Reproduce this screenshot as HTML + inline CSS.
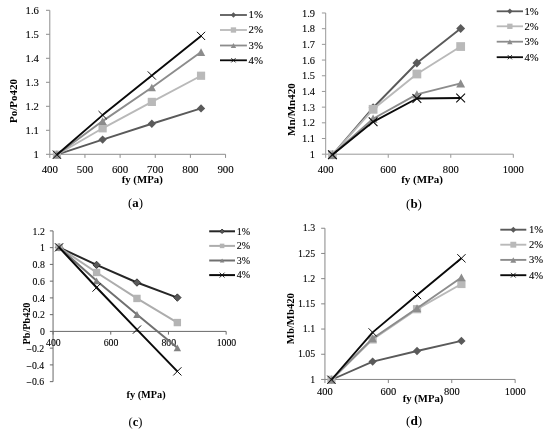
<!DOCTYPE html>
<html><head><meta charset="utf-8"><title>Figure</title>
<style>
html,body{margin:0;padding:0;background:#fff;}
body{width:550px;height:432px;overflow:hidden;}
svg{display:block;font-family:"Liberation Serif",serif;fill:#000;}
.b{font-weight:bold;}
</style></head><body>
<svg width="550" height="432" viewBox="0 0 550 432">
<rect width="550" height="432" fill="#fff"/>

<g stroke="#8e8e8e" stroke-width="1" fill="none">
<path d="M49.8 10.3V154.3"/>
<path d="M49.8 154.3H225.55"/>
<path d="M46 154.3H49.8M46 130.3H49.8M46 106.3H49.8M46 82.3H49.8M46 58.3H49.8M46 34.3H49.8M46 10.3H49.8M49.8 154.3v3.6M84.95 154.3v3.6M120.1 154.3v3.6M155.25 154.3v3.6M190.4 154.3v3.6M225.55 154.3v3.6"/>
</g>
<g font-size="10.7" fill="#000" stroke="#000" stroke-width="0.1">
<g text-anchor="end">
<text x="38.9" y="157.6">1</text>
<text x="38.9" y="133.6">1.1</text>
<text x="38.9" y="109.6">1.2</text>
<text x="38.9" y="85.6">1.3</text>
<text x="38.9" y="61.6">1.4</text>
<text x="38.9" y="37.6">1.5</text>
<text x="38.9" y="13.6">1.6</text>
</g><g text-anchor="middle" font-size="10.9">
<text x="49.8" y="173.2">400</text>
<text x="84.95" y="173.2">500</text>
<text x="120.1" y="173.2">600</text>
<text x="155.25" y="173.2">700</text>
<text x="190.4" y="173.2">800</text>
<text x="225.55" y="173.2">900</text>
</g></g>
<polyline points="56.93,154.7 102.62,139.58 151.83,123.74 201.04,108.38" fill="none" stroke="#5a5a5a" stroke-width="1.9" stroke-linejoin="round"/>
<path d="M56.93 150.55L61.08 154.7L56.93 158.85L52.78 154.7Z" fill="#5a5a5a"/>
<path d="M102.62 135.43L106.77 139.58L102.62 143.73L98.47 139.58Z" fill="#5a5a5a"/>
<path d="M151.83 119.59L155.98 123.74L151.83 127.89L147.68 123.74Z" fill="#5a5a5a"/>
<path d="M201.04 104.23L205.19 108.38L201.04 112.53L196.89 108.38Z" fill="#5a5a5a"/>
<polyline points="56.93,154.7 102.62,128.3 151.83,101.9 201.04,75.74" fill="none" stroke="#b9b9b9" stroke-width="1.9" stroke-linejoin="round"/>
<rect x="52.83" y="150.6" width="8.2" height="8.2" fill="#b9b9b9"/>
<rect x="98.52" y="124.2" width="8.2" height="8.2" fill="#b9b9b9"/>
<rect x="147.73" y="97.8" width="8.2" height="8.2" fill="#b9b9b9"/>
<rect x="196.94" y="71.64" width="8.2" height="8.2" fill="#b9b9b9"/>
<polyline points="56.93,154.7 102.62,121.1 151.83,87.5 201.04,52.1" fill="none" stroke="#8c8c8c" stroke-width="1.9" stroke-linejoin="round"/>
<path d="M56.93 150.85L61.08 158.55L52.78 158.55Z" fill="#8c8c8c"/>
<path d="M102.62 117.25L106.77 124.95L98.47 124.95Z" fill="#8c8c8c"/>
<path d="M151.83 83.65L155.98 91.35L147.68 91.35Z" fill="#8c8c8c"/>
<path d="M201.04 48.25L205.19 55.95L196.89 55.95Z" fill="#8c8c8c"/>
<polyline points="56.93,154.7 102.62,115.1 151.83,75.5 201.04,35.9" fill="none" stroke="#0a0a0a" stroke-width="1.9" stroke-linejoin="round"/>
<path d="M52.83 150.6L61.03 158.8M61.03 150.6L52.83 158.8" stroke="#0a0a0a" stroke-width="1" fill="none"/>
<path d="M98.52 111L106.72 119.2M106.72 111L98.52 119.2" stroke="#0a0a0a" stroke-width="1" fill="none"/>
<path d="M147.73 71.4L155.93 79.6M155.93 71.4L147.73 79.6" stroke="#0a0a0a" stroke-width="1" fill="none"/>
<path d="M196.94 31.8L205.14 40M205.14 31.8L196.94 40" stroke="#0a0a0a" stroke-width="1" fill="none"/>
<path d="M220 15H246.9" stroke="#5a5a5a" stroke-width="1.8"/>
<path d="M233.45 12.3L236.15 15L233.45 17.7L230.75 15Z" fill="#5a5a5a"/>
<text x="248.5" y="18.3" font-size="10.8" fill="#000" stroke="#000" stroke-width="0.1">1%</text>
<path d="M220 30H246.9" stroke="#b9b9b9" stroke-width="1.8"/>
<rect x="230.78" y="27.34" width="5.33" height="5.33" fill="#b9b9b9"/>
<text x="248.5" y="33.3" font-size="10.8" fill="#000" stroke="#000" stroke-width="0.1">2%</text>
<path d="M220 45.5H246.9" stroke="#8c8c8c" stroke-width="1.8"/>
<path d="M233.45 43L236.15 48L230.75 48Z" fill="#8c8c8c"/>
<text x="248.5" y="48.8" font-size="10.8" fill="#000" stroke="#000" stroke-width="0.1">3%</text>
<path d="M220 60.3H246.9" stroke="#0a0a0a" stroke-width="1.8"/>
<path d="M231.32 58.17L235.58 62.43M235.58 58.17L231.32 62.43" stroke="#0a0a0a" stroke-width="0.85" fill="none"/>
<text x="248.5" y="63.6" font-size="10.8" fill="#000" stroke="#000" stroke-width="0.1">4%</text>
<text class="b" font-size="11.0" text-anchor="middle" transform="translate(16.5 101) rotate(-90)">Po/Po420</text>
<text class="b" font-size="10.8" text-anchor="middle" x="142.2" y="183">fy (MPa)</text>
<text font-size="12.8" text-anchor="middle" x="135.5" y="207">(<tspan class="b">a</tspan>)</text>
<g stroke="#989898" stroke-width="1" fill="none">
<path d="M325.7 12.99V154.2"/>
<path d="M325.7 154.2H513.32"/>
<path d="M321.9 154.2H325.7M321.9 138.51H325.7M321.9 122.82H325.7M321.9 107.13H325.7M321.9 91.44H325.7M321.9 75.75H325.7M321.9 60.06H325.7M321.9 44.37H325.7M321.9 28.68H325.7M321.9 12.99H325.7M325.7 154.2v3.6M388.24 154.2v3.6M450.78 154.2v3.6M513.32 154.2v3.6"/>
</g>
<g font-size="10.4" fill="#000" stroke="#000" stroke-width="0.1">
<g text-anchor="end">
<text x="315" y="157.8">1</text>
<text x="315" y="142.11">1.1</text>
<text x="315" y="126.42">1.2</text>
<text x="315" y="110.73">1.3</text>
<text x="315" y="95.04">1.4</text>
<text x="315" y="79.35">1.5</text>
<text x="315" y="63.66">1.6</text>
<text x="315" y="47.97">1.7</text>
<text x="315" y="32.28">1.8</text>
<text x="315" y="16.59">1.9</text>
</g><g text-anchor="middle" font-size="10.6">
<text x="325.7" y="172.6">400</text>
<text x="388.24" y="172.6">600</text>
<text x="450.78" y="172.6">800</text>
<text x="513.32" y="172.6">1000</text>
</g></g>
<polyline points="332.45,154.8 373.1,107.73 416.88,63.01 460.66,28.5" fill="none" stroke="#5a5a5a" stroke-width="1.9" stroke-linejoin="round"/>
<path d="M332.45 150.36L336.89 154.8L332.45 159.24L328.01 154.8Z" fill="#5a5a5a"/>
<path d="M373.1 103.29L377.55 107.73L373.1 112.17L368.66 107.73Z" fill="#5a5a5a"/>
<path d="M416.88 58.57L421.32 63.01L416.88 67.45L412.44 63.01Z" fill="#5a5a5a"/>
<path d="M460.66 24.05L465.1 28.5L460.66 32.94L456.22 28.5Z" fill="#5a5a5a"/>
<polyline points="332.45,154.8 373.1,109.3 416.88,74 460.66,46.54" fill="none" stroke="#b9b9b9" stroke-width="1.9" stroke-linejoin="round"/>
<rect x="328.07" y="150.41" width="8.77" height="8.77" fill="#b9b9b9"/>
<rect x="368.72" y="104.91" width="8.77" height="8.77" fill="#b9b9b9"/>
<rect x="412.5" y="69.61" width="8.77" height="8.77" fill="#b9b9b9"/>
<rect x="456.27" y="42.15" width="8.77" height="8.77" fill="#b9b9b9"/>
<polyline points="332.45,154.8 373.1,118.71 416.88,94.39 460.66,83.41" fill="none" stroke="#8c8c8c" stroke-width="1.9" stroke-linejoin="round"/>
<path d="M332.45 150.68L336.89 158.92L328.01 158.92Z" fill="#8c8c8c"/>
<path d="M373.1 114.59L377.55 122.83L368.66 122.83Z" fill="#8c8c8c"/>
<path d="M416.88 90.27L421.32 98.51L412.44 98.51Z" fill="#8c8c8c"/>
<path d="M460.66 79.29L465.1 87.53L456.22 87.53Z" fill="#8c8c8c"/>
<polyline points="332.45,154.8 373.1,121.85 416.88,98.47 460.66,98" fill="none" stroke="#0a0a0a" stroke-width="1.9" stroke-linejoin="round"/>
<path d="M328.07 150.41L336.84 159.19M336.84 150.41L328.07 159.19" stroke="#0a0a0a" stroke-width="1.07" fill="none"/>
<path d="M368.72 117.46L377.49 126.24M377.49 117.46L368.72 126.24" stroke="#0a0a0a" stroke-width="1.07" fill="none"/>
<path d="M412.5 94.09L421.27 102.86M421.27 94.09L412.5 102.86" stroke="#0a0a0a" stroke-width="1.07" fill="none"/>
<path d="M456.27 93.62L465.05 102.39M465.05 93.62L456.27 102.39" stroke="#0a0a0a" stroke-width="1.07" fill="none"/>
<path d="M496.7 11.3H523" stroke="#5a5a5a" stroke-width="1.8"/>
<path d="M509.85 8.6L512.55 11.3L509.85 14L507.15 11.3Z" fill="#5a5a5a"/>
<text x="524.5" y="14.6" font-size="10.6" fill="#000" stroke="#000" stroke-width="0.1">1%</text>
<path d="M496.7 26.3H523" stroke="#b9b9b9" stroke-width="1.8"/>
<rect x="507.19" y="23.64" width="5.33" height="5.33" fill="#b9b9b9"/>
<text x="524.5" y="29.6" font-size="10.6" fill="#000" stroke="#000" stroke-width="0.1">2%</text>
<path d="M496.7 41.7H523" stroke="#8c8c8c" stroke-width="1.8"/>
<path d="M509.85 39.2L512.55 44.2L507.15 44.2Z" fill="#8c8c8c"/>
<text x="524.5" y="45" font-size="10.6" fill="#000" stroke="#000" stroke-width="0.1">3%</text>
<path d="M496.7 57.2H523" stroke="#0a0a0a" stroke-width="1.8"/>
<path d="M507.72 55.07L511.98 59.33M511.98 55.07L507.72 59.33" stroke="#0a0a0a" stroke-width="0.85" fill="none"/>
<text x="524.5" y="60.5" font-size="10.6" fill="#000" stroke="#000" stroke-width="0.1">4%</text>
<text class="b" font-size="11.0" text-anchor="middle" transform="translate(294.9 109.6) rotate(-90)">Mn/Mn420</text>
<text class="b" font-size="11" text-anchor="middle" x="422.1" y="183">fy (MPa)</text>
<text font-size="13" text-anchor="middle" x="414" y="207.6">(<tspan class="b">b</tspan>)</text>
<g stroke="#686868" stroke-width="1" fill="none">
<path d="M53.05 230.9V381.65"/>
<path d="M53.05 331.4H226.15"/>
<path d="M49.85 381.65H53.05M49.85 364.9H53.05M49.85 348.15H53.05M49.85 331.4H53.05M49.85 314.65H53.05M49.85 297.9H53.05M49.85 281.15H53.05M49.85 264.4H53.05M49.85 247.65H53.05M49.85 230.9H53.05M53.05 331.4v3.2M110.75 331.4v3.2M168.45 331.4v3.2M226.15 331.4v3.2"/>
</g>
<g font-size="9.8" fill="#000" stroke="#000" stroke-width="0.1">
<g text-anchor="end">
<text x="44.8" y="385.45"><tspan class="b" dy="0.9" dx="-0.6">−</tspan><tspan dy="-0.9">0.6</tspan></text>
<text x="44.8" y="368.7"><tspan class="b" dy="0.9" dx="-0.6">−</tspan><tspan dy="-0.9">0.4</tspan></text>
<text x="44.8" y="351.95"><tspan class="b" dy="0.9" dx="-0.6">−</tspan><tspan dy="-0.9">0.2</tspan></text>
<text x="44.8" y="335.2">0</text>
<text x="44.8" y="318.45">0.2</text>
<text x="44.8" y="301.7">0.4</text>
<text x="44.8" y="284.95">0.6</text>
<text x="44.8" y="268.2">0.8</text>
<text x="44.8" y="251.45">1</text>
<text x="44.8" y="234.7">1.2</text>
</g><g text-anchor="middle" font-size="9.8">
<text x="53.35" y="346.3">400</text>
<text x="111.05" y="346.3">600</text>
<text x="168.75" y="346.3">800</text>
<text x="226.45" y="346.3">1000</text>
</g></g>
<polyline points="59.07,247.35 96.57,264.94 136.96,282.52 177.35,297.6" fill="none" stroke="#262626" stroke-width="2" stroke-linejoin="round"/>
<path d="M59.07 243.61L62.8 247.35L59.07 251.08L55.33 247.35Z" fill="#595959" stroke="#262626" stroke-width="0.8"/>
<path d="M96.57 261.2L100.31 264.94L96.57 268.67L92.84 264.94Z" fill="#595959" stroke="#262626" stroke-width="0.8"/>
<path d="M136.96 278.79L140.7 282.52L136.96 286.26L133.23 282.52Z" fill="#595959" stroke="#262626" stroke-width="0.8"/>
<path d="M177.35 293.86L181.09 297.6L177.35 301.33L173.62 297.6Z" fill="#595959" stroke="#262626" stroke-width="0.8"/>
<polyline points="59.07,247.35 96.57,272.47 136.96,298.44 177.35,322.56" fill="none" stroke="#adadad" stroke-width="2" stroke-linejoin="round"/>
<rect x="55.38" y="243.66" width="7.38" height="7.38" fill="#b4b4b4"/>
<rect x="92.88" y="268.78" width="7.38" height="7.38" fill="#b4b4b4"/>
<rect x="133.27" y="294.75" width="7.38" height="7.38" fill="#b4b4b4"/>
<rect x="173.66" y="318.87" width="7.38" height="7.38" fill="#b4b4b4"/>
<polyline points="59.07,247.35 96.57,280.85 136.96,314.52 177.35,347.85" fill="none" stroke="#707070" stroke-width="2" stroke-linejoin="round"/>
<path d="M59.07 243.88L62.8 250.81L55.33 250.81Z" fill="#828282"/>
<path d="M96.57 277.38L100.31 284.31L92.84 284.31Z" fill="#828282"/>
<path d="M136.96 311.05L140.7 317.98L133.23 317.98Z" fill="#828282"/>
<path d="M177.35 344.38L181.09 351.31L173.62 351.31Z" fill="#828282"/>
<polyline points="59.07,247.35 96.57,287.55 136.96,329.59 177.35,371.38" fill="none" stroke="#0a0a0a" stroke-width="2" stroke-linejoin="round"/>
<path d="M54.97 243.25L63.17 251.45M63.17 243.25L54.97 251.45" stroke="#0a0a0a" stroke-width="1" fill="none"/>
<path d="M92.47 283.45L100.67 291.65M100.67 283.45L92.47 291.65" stroke="#0a0a0a" stroke-width="1" fill="none"/>
<path d="M132.86 325.49L141.06 333.69M141.06 325.49L132.86 333.69" stroke="#0a0a0a" stroke-width="1" fill="none"/>
<path d="M173.25 367.28L181.45 375.48M181.45 367.28L173.25 375.48" stroke="#0a0a0a" stroke-width="1" fill="none"/>
<path d="M209.2 231.3H235" stroke="#262626" stroke-width="2"/>
<path d="M222.1 229.02L224.38 231.3L222.1 233.58L219.82 231.3Z" fill="#595959" stroke="#262626" stroke-width="0.8"/>
<text x="236.8" y="234.6" font-size="10" fill="#000" stroke="#000" stroke-width="0.1">1%</text>
<path d="M209.2 245.9H235" stroke="#adadad" stroke-width="2"/>
<rect x="219.84" y="243.65" width="4.51" height="4.51" fill="#b4b4b4"/>
<text x="236.8" y="249.2" font-size="10" fill="#000" stroke="#000" stroke-width="0.1">2%</text>
<path d="M209.2 260.5H235" stroke="#707070" stroke-width="2"/>
<path d="M222.1 258.38L224.38 262.62L219.82 262.62Z" fill="#828282"/>
<text x="236.8" y="263.8" font-size="10" fill="#000" stroke="#000" stroke-width="0.1">3%</text>
<path d="M209.2 275.1H235" stroke="#0a0a0a" stroke-width="2"/>
<path d="M219.64 272.64L224.56 277.56M224.56 272.64L219.64 277.56" stroke="#0a0a0a" stroke-width="0.85" fill="none"/>
<text x="236.8" y="278.4" font-size="10" fill="#000" stroke="#000" stroke-width="0.1">4%</text>
<text class="b" font-size="10.2" text-anchor="middle" transform="translate(30.1 323.5) rotate(-90)">Pb/Pb420</text>
<text class="b" font-size="10.3" text-anchor="middle" x="146.1" y="397.7">fy (MPa)</text>
<text font-size="12.5" text-anchor="middle" x="135.5" y="425.6">(<tspan class="b">c</tspan>)</text>
<g stroke="#868686" stroke-width="1" fill="none">
<path d="M324.95 228.25V379.45"/>
<path d="M324.95 379.45H515.15"/>
<path d="M321.15 379.45H324.95M321.15 354.25H324.95M321.15 329.05H324.95M321.15 303.85H324.95M321.15 278.65H324.95M321.15 253.45H324.95M321.15 228.25H324.95M324.95 379.45v3.6M388.35 379.45v3.6M451.75 379.45v3.6M515.15 379.45v3.6"/>
</g>
<g font-size="9.9" fill="#000" stroke="#000" stroke-width="0.1">
<g text-anchor="end">
<text x="315.2" y="382.65">1</text>
<text x="315.2" y="357.45">1.05</text>
<text x="315.2" y="332.25">1.1</text>
<text x="315.2" y="307.05">1.15</text>
<text x="315.2" y="281.85">1.2</text>
<text x="315.2" y="256.65">1.25</text>
<text x="315.2" y="231.45">1.3</text>
</g><g text-anchor="middle" font-size="10.5">
<text x="324.95" y="394.8">400</text>
<text x="388.35" y="394.8">600</text>
<text x="451.75" y="394.8">800</text>
<text x="515.15" y="394.8">1000</text>
</g></g>
<polyline points="331.44,379.75 372.65,361.61 417.03,351.02 461.41,340.94" fill="none" stroke="#5a5a5a" stroke-width="1.9" stroke-linejoin="round"/>
<path d="M331.44 375.6L335.59 379.75L331.44 383.9L327.29 379.75Z" fill="#5a5a5a"/>
<path d="M372.65 357.46L376.8 361.61L372.65 365.76L368.5 361.61Z" fill="#5a5a5a"/>
<path d="M417.03 346.87L421.18 351.02L417.03 355.17L412.88 351.02Z" fill="#5a5a5a"/>
<path d="M461.41 336.79L465.56 340.94L461.41 345.09L457.26 340.94Z" fill="#5a5a5a"/>
<polyline points="331.44,379.75 372.65,339.43 417.03,309.19 461.41,283.99" fill="none" stroke="#b9b9b9" stroke-width="1.9" stroke-linejoin="round"/>
<rect x="327.34" y="375.65" width="8.2" height="8.2" fill="#b9b9b9"/>
<rect x="368.55" y="335.33" width="8.2" height="8.2" fill="#b9b9b9"/>
<rect x="412.93" y="305.09" width="8.2" height="8.2" fill="#b9b9b9"/>
<rect x="457.31" y="279.89" width="8.2" height="8.2" fill="#b9b9b9"/>
<polyline points="331.44,379.75 372.65,338.42 417.03,308.18 461.41,277.44" fill="none" stroke="#8c8c8c" stroke-width="1.9" stroke-linejoin="round"/>
<path d="M331.44 375.9L335.59 383.6L327.29 383.6Z" fill="#8c8c8c"/>
<path d="M372.65 334.57L376.8 342.27L368.5 342.27Z" fill="#8c8c8c"/>
<path d="M417.03 304.33L421.18 312.03L412.88 312.03Z" fill="#8c8c8c"/>
<path d="M461.41 273.59L465.56 281.29L457.26 281.29Z" fill="#8c8c8c"/>
<polyline points="331.44,379.75 372.65,332.37 417.03,295.08 461.41,258.29" fill="none" stroke="#0a0a0a" stroke-width="1.9" stroke-linejoin="round"/>
<path d="M327.34 375.65L335.54 383.85M335.54 375.65L327.34 383.85" stroke="#0a0a0a" stroke-width="1" fill="none"/>
<path d="M368.55 328.27L376.75 336.47M376.75 328.27L368.55 336.47" stroke="#0a0a0a" stroke-width="1" fill="none"/>
<path d="M412.93 290.98L421.13 299.18M421.13 290.98L412.93 299.18" stroke="#0a0a0a" stroke-width="1" fill="none"/>
<path d="M457.31 254.19L465.51 262.39M465.51 254.19L457.31 262.39" stroke="#0a0a0a" stroke-width="1" fill="none"/>
<path d="M500.3 229.7H526.3" stroke="#5a5a5a" stroke-width="1.9"/>
<path d="M513.3 226.71L516.29 229.7L513.3 232.69L510.31 229.7Z" fill="#5a5a5a"/>
<text x="529" y="233.1" font-size="10.6" fill="#000" stroke="#000" stroke-width="0.1">1%</text>
<path d="M500.3 244.7H526.3" stroke="#b9b9b9" stroke-width="1.9"/>
<rect x="510.35" y="241.75" width="5.9" height="5.9" fill="#b9b9b9"/>
<text x="529" y="248.1" font-size="10.6" fill="#000" stroke="#000" stroke-width="0.1">2%</text>
<path d="M500.3 259.9H526.3" stroke="#8c8c8c" stroke-width="1.9"/>
<path d="M513.3 257.13L516.29 262.67L510.31 262.67Z" fill="#8c8c8c"/>
<text x="529" y="263.3" font-size="10.6" fill="#000" stroke="#000" stroke-width="0.1">3%</text>
<path d="M500.3 275.2H526.3" stroke="#0a0a0a" stroke-width="1.9"/>
<path d="M510.94 272.84L515.66 277.56M515.66 272.84L510.94 277.56" stroke="#0a0a0a" stroke-width="0.85" fill="none"/>
<text x="529" y="278.6" font-size="10.6" fill="#000" stroke="#000" stroke-width="0.1">4%</text>
<text class="b" font-size="10.7" text-anchor="middle" transform="translate(294.2 318.6) rotate(-90)">Mb/Mb420</text>
<text class="b" font-size="10.7" text-anchor="middle" x="423" y="401.6">fy (MPa)</text>
<text font-size="13.2" text-anchor="middle" x="414.1" y="424.8">(<tspan class="b">d</tspan>)</text>
</svg></body></html>
